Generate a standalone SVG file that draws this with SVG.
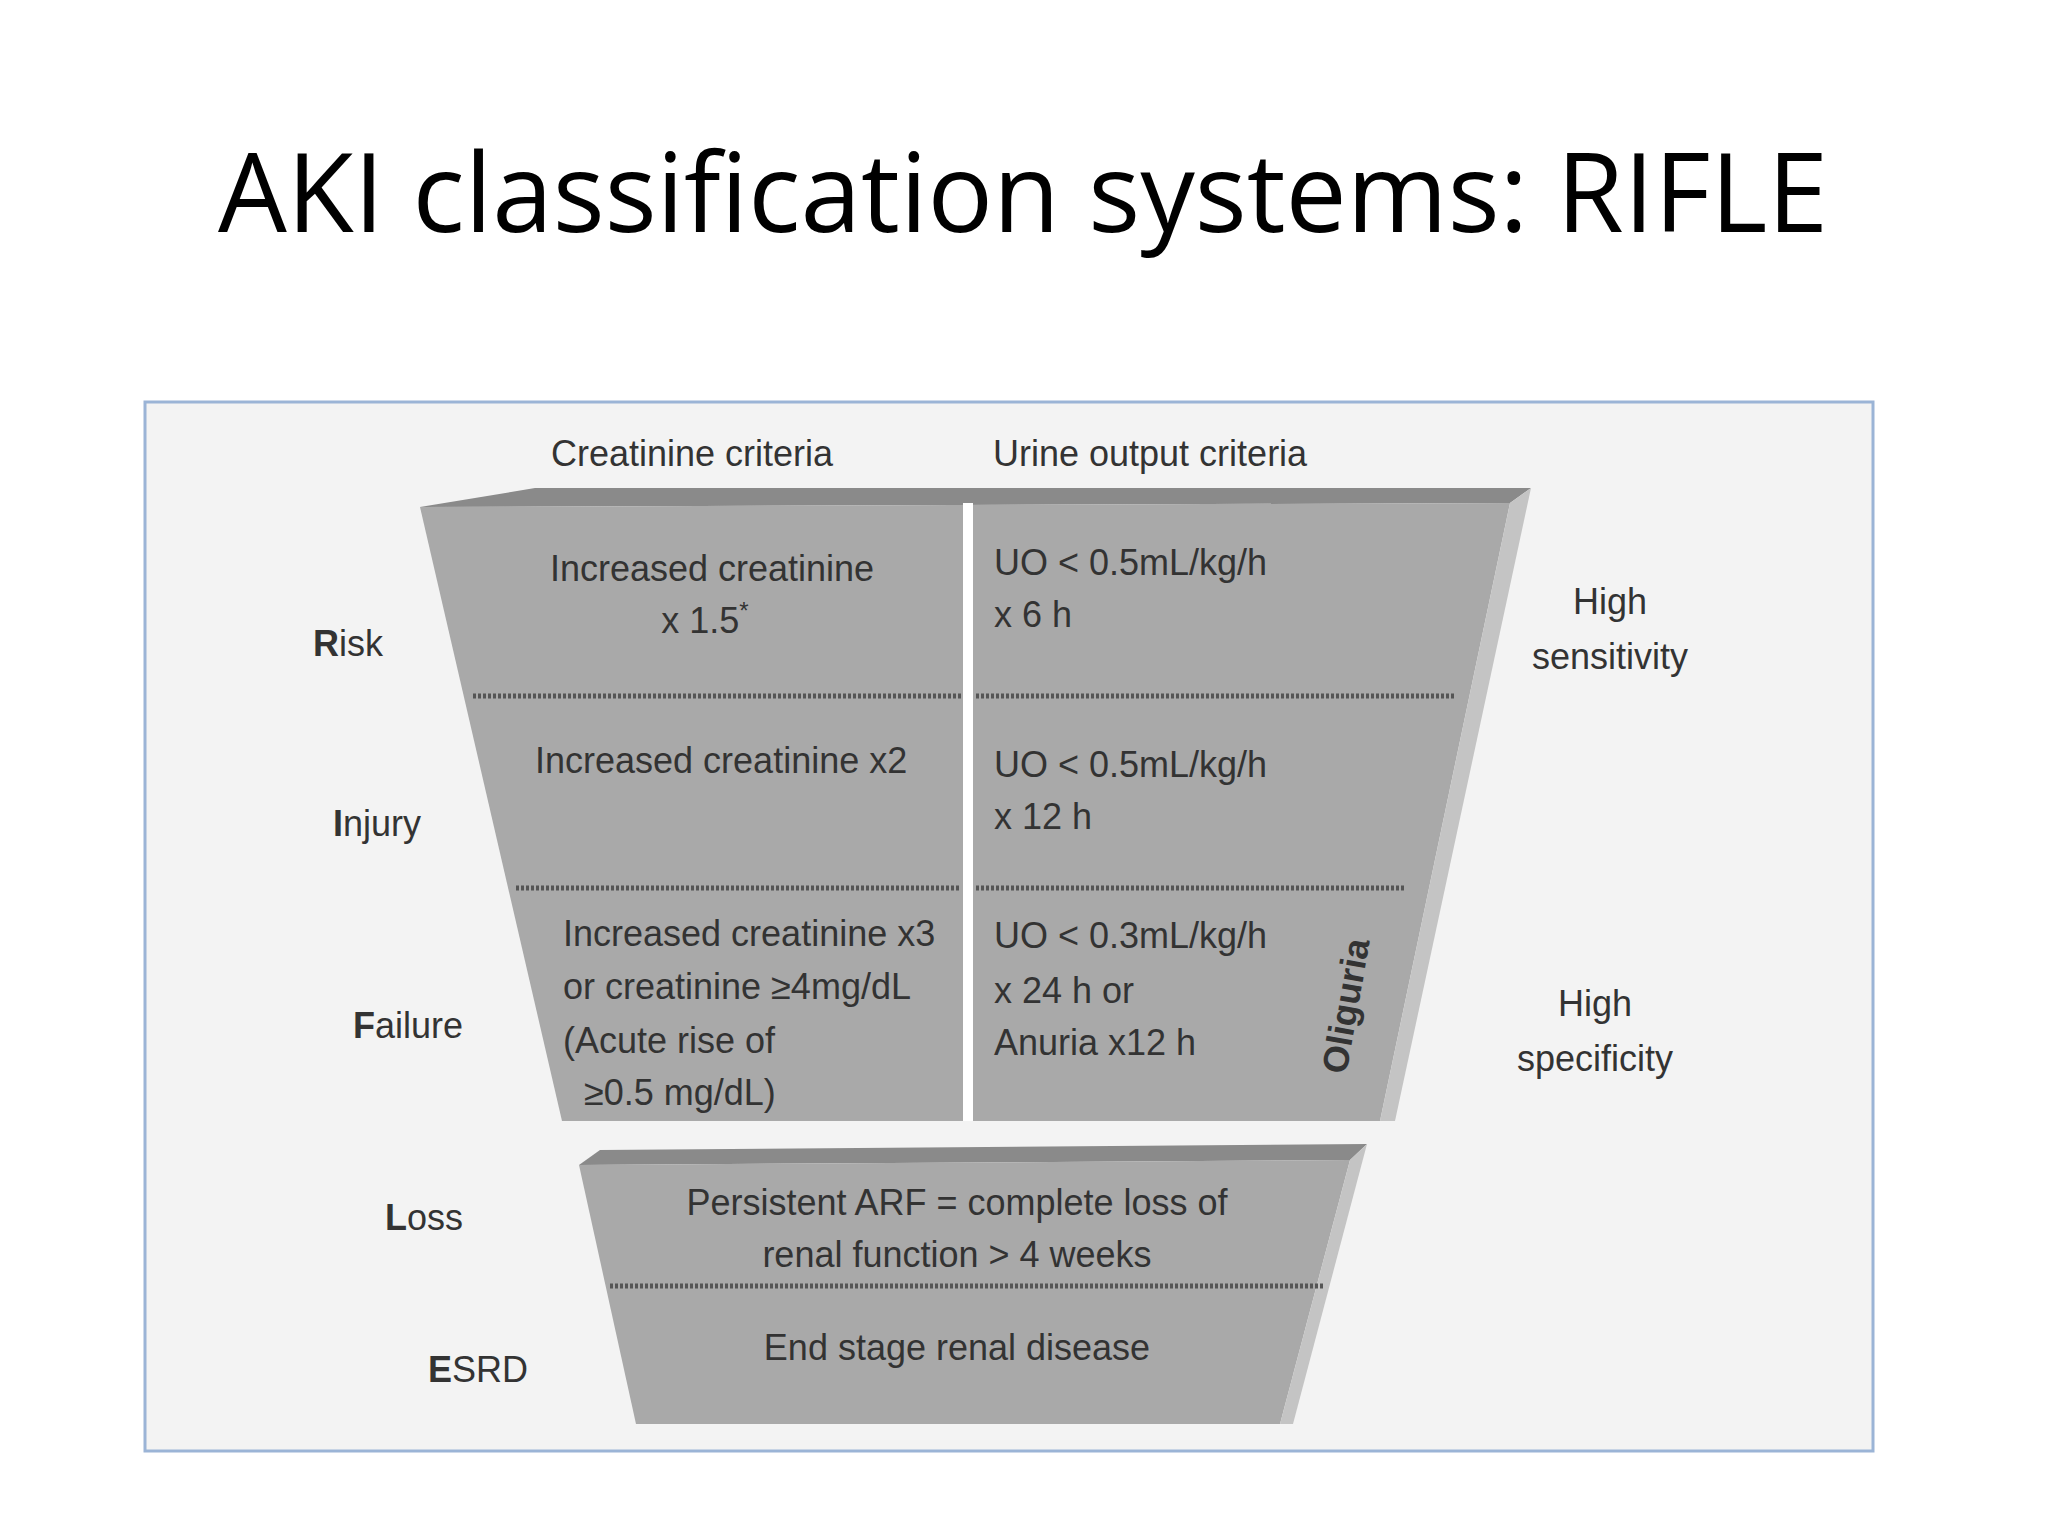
<svg xmlns="http://www.w3.org/2000/svg" width="2048" height="1536" viewBox="0 0 2048 1536">
<style>
text{font-family:"Liberation Sans",Arial,sans-serif;fill:#333;font-size:36px}
.t{font-family:"Open Sans","Liberation Sans",sans-serif;fill:#000;font-size:109px}
.m{text-anchor:middle}
.dot{stroke:#555;stroke-width:5;stroke-dasharray:3 2}
.fun{fill:#a9a9a9}
.edge{fill:#8a8a8a}
</style>
<rect width="2048" height="1536" fill="#fff"/>
<text class="t m" x="1023" y="232">AKI classification systems: RIFLE</text>
<rect x="145" y="402" width="1728" height="1049" fill="#f3f3f3" stroke="#9bb4d6" stroke-width="3"/>
<g id="top-funnel">
<polygon class="edge" points="420,507 535,488 1531,488 1510,503"/>
<polygon class="fun" points="420,507 1510,503 1380,1121 562,1121"/>
<polygon fill="#c4c4c4" points="1510,503 1531,488 1395,1121 1380,1121"/>
<rect x="963" y="503" width="10" height="618" fill="#fff"/>
<line class="dot" x1="473" y1="696" x2="961" y2="696"/>
<line class="dot" x1="976" y1="696" x2="1455" y2="696"/>
<line class="dot" x1="516" y1="888" x2="961" y2="888"/>
<line class="dot" x1="976" y1="888" x2="1404" y2="888"/>
</g>
<g id="bottom-funnel">
<polygon class="edge" points="579,1165 600,1150 1367,1144 1350,1160"/>
<polygon class="fun" points="579,1165 1350,1160 1280,1424 636,1424"/>
<polygon fill="#c4c4c4" points="1350,1160 1367,1144 1293,1424 1280,1424"/>
<line class="dot" x1="610" y1="1286" x2="1323" y2="1286"/>
</g>
<g id="headers">
<text x="551" y="466">Creatinine criteria</text>
<text x="993" y="466">Urine output criteria</text>
</g>
<g id="labels">
<text x="313" y="656"><tspan font-weight="bold">R</tspan>isk</text>
<text x="333" y="836"><tspan font-weight="bold">I</tspan>njury</text>
<text x="353" y="1038"><tspan font-weight="bold">F</tspan>ailure</text>
<text x="385" y="1230"><tspan font-weight="bold">L</tspan>oss</text>
<text x="428" y="1382"><tspan font-weight="bold">E</tspan>SRD</text>
<text class="m" x="1610" y="614">High</text>
<text class="m" x="1610" y="669">sensitivity</text>
<text class="m" x="1595" y="1016">High</text>
<text class="m" x="1595" y="1071">specificity</text>
</g>
<g id="risk">
<text class="m" x="712" y="581">Increased creatinine</text>
<text class="m" x="705" y="633">x 1.5<tspan font-size="24" dy="-14">*</tspan></text>
<text x="994" y="575">UO &lt; 0.5mL/kg/h</text>
<text x="994" y="627">x 6 h</text>
</g>
<g id="injury">
<text x="535" y="773">Increased creatinine x2</text>
<text x="994" y="777">UO &lt; 0.5mL/kg/h</text>
<text x="994" y="829">x 12 h</text>
</g>
<g id="failure">
<text x="563" y="946">Increased creatinine x3</text>
<text x="563" y="999">or creatinine ≥4mg/dL</text>
<text x="563" y="1053">(Acute rise of</text>
<text x="584" y="1105">≥0.5 mg/dL)</text>
<text x="994" y="948">UO &lt; 0.3mL/kg/h</text>
<text x="994" y="1003">x 24 h or</text>
<text x="994" y="1055">Anuria x12 h</text>
<text class="m" transform="translate(1358,1008) rotate(-80)" font-weight="bold">Oliguria</text>
</g>
<g id="loss">
<text class="m" x="957" y="1215">Persistent ARF = complete loss of</text>
<text class="m" x="957" y="1267">renal function &gt; 4 weeks</text>
</g>
<g id="esrd">
<text class="m" x="957" y="1360">End stage renal disease</text>
</g>
</svg>
